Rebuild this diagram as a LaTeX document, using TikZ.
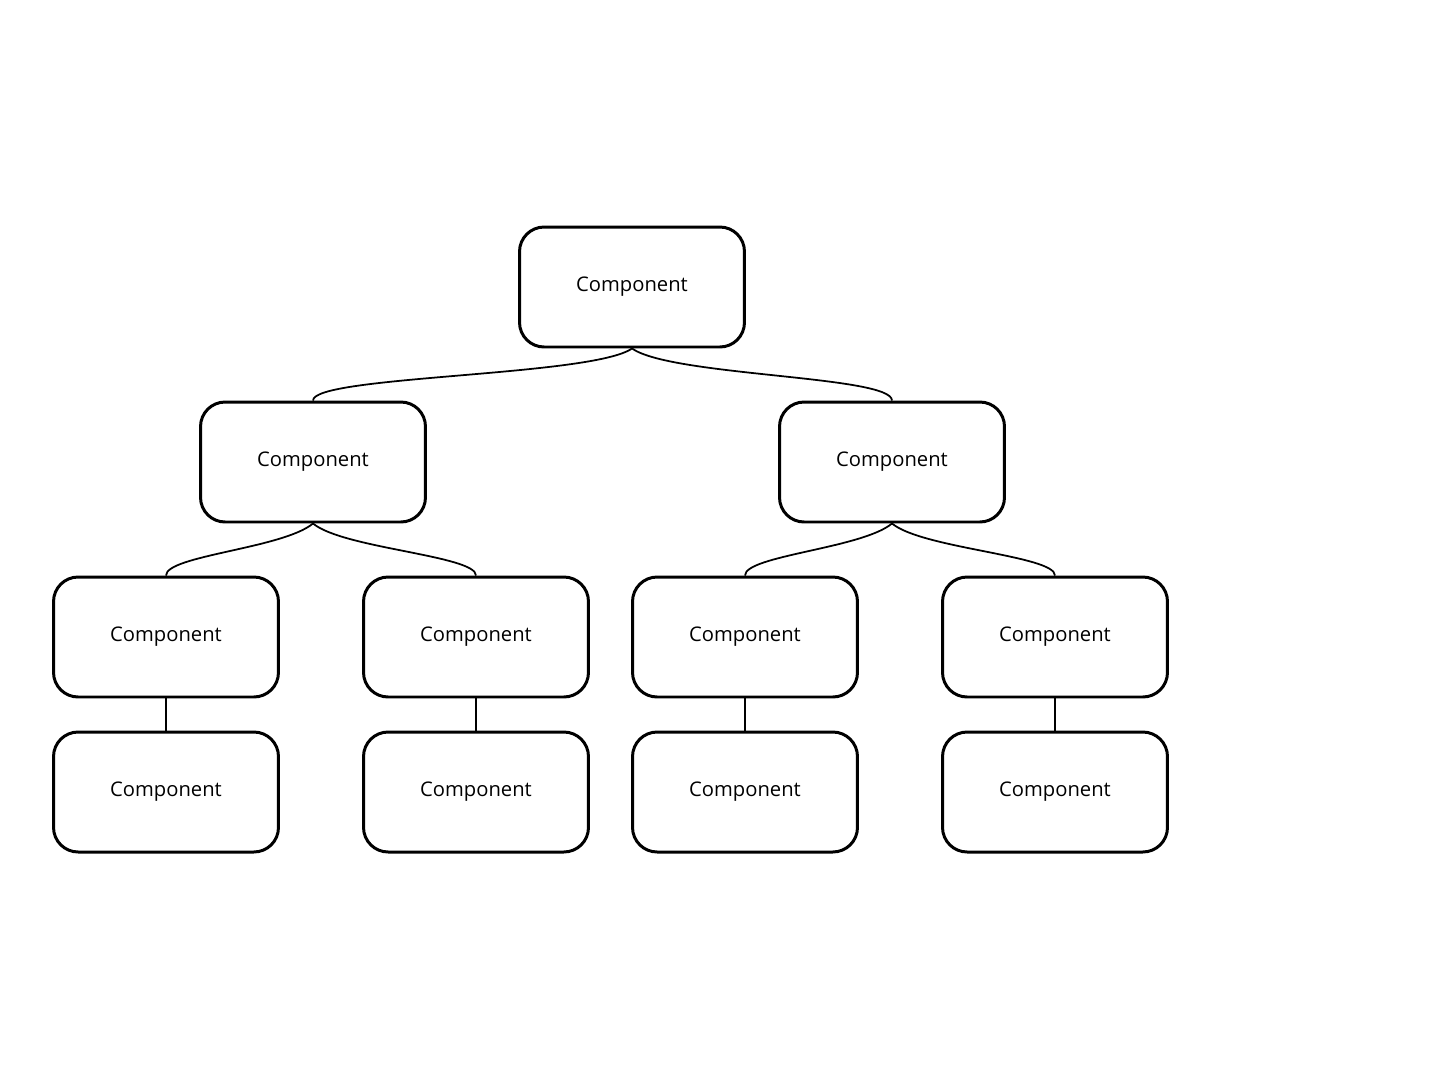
\documentclass[tikz,border=0pt]{standalone}
\usepackage{fontspec}
\setmainfont{Open Sans}
\begin{document}
\begin{tikzpicture}[x=0.02cm,y=-0.02cm,
  compbox/.style={draw, line width=1.7pt, rounded corners=14pt, minimum width=4.5cm, minimum height=2.4cm, font=\fontsize{11.5}{13}\selectfont},
  link/.style={line width=1pt}]
	\useasboundingbox (0,0) rectangle (1440,1080);
	% tree of components
	\node [compbox] (top) at (632,287) {Component};
	\node [compbox] (l) at (313,462) {Component};
	\node [compbox] (r) at (892,462) {Component};
	\node [compbox] (ll) at (166,637) {Component};
	\node [compbox] (lr) at (476,637) {Component};
	\node [compbox] (rl) at (745,637) {Component};
	\node [compbox] (rr) at (1055,637) {Component};
	\node [compbox] (llb) at (166,792) {Component};
	\node [compbox] (lrb) at (476,792) {Component};
	\node [compbox] (rlb) at (745,792) {Component};
	\node [compbox] (rrb) at (1055,792) {Component};
	\draw [link] (top.south) .. controls +(-40,28) and +(0,-25) .. (l.north);
	\draw [link] (top.south) .. controls +(40,28) and +(0,-25) .. (r.north);
	\draw [link] (l.south) .. controls +(-30,25) and +(0,-20) .. (ll.north);
	\draw [link] (l.south) .. controls +(30,25) and +(0,-20) .. (lr.north);
	\draw [link] (r.south) .. controls +(-30,25) and +(0,-20) .. (rl.north);
	\draw [link] (r.south) .. controls +(30,25) and +(0,-20) .. (rr.north);
	\foreach \a in {ll,lr,rl,rr}
		\draw [link] (\a.south) -- (\a b.north);
\end{tikzpicture}
\end{document}
